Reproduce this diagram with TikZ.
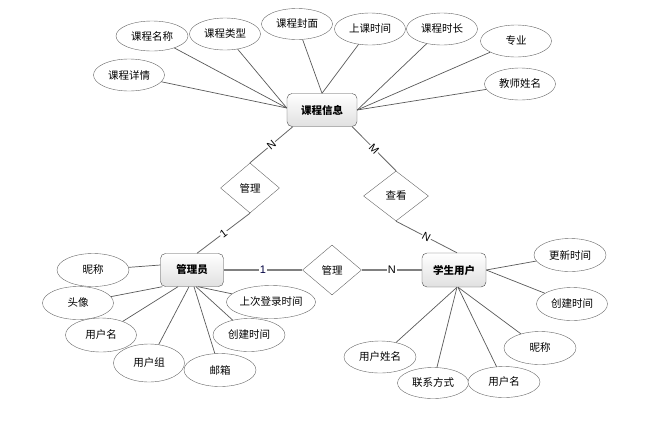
\documentclass[tikz,border=0pt]{standalone}
\usepackage{fontspec}
\newfontfamily\cjk{Noto Sans CJK SC}
\newfontfamily\lat{Liberation Sans}
\usetikzlibrary{shapes.geometric,calc}
\begin{document}
\begin{tikzpicture}[x=1pt,y=-1pt,
  attr/.style={ellipse, draw=black!60, fill=white, minimum width=71pt, minimum height=32pt, inner sep=0pt, font=\cjk\fontsize{10.5}{12}\selectfont},
  ent/.style={rectangle, rounded corners=5pt, draw=black!70, top color=white, bottom color=black!12, minimum width=70pt, minimum height=33pt, inner sep=0pt, font=\cjk\bfseries\fontsize{10.5}{12}\selectfont},
  rel/.style={diamond, draw=black!60, fill=white, minimum width=59pt, minimum height=50pt, inner sep=0pt, font=\cjk\fontsize{10.5}{12}\selectfont},
  aline/.style={draw=black!65, line width=0.7pt},
  rline/.style={draw=black!60, line width=0.8pt},
  hline/.style={draw=black!50, line width=1.4pt},
  card/.style={font=\lat\fontsize{11}{12}\selectfont, fill=white, inner sep=0.8pt}
]
\useasboundingbox (0,0) rectangle (650,421);

% entities
\node[ent] (kc) at (322,110) {课程信息};
\node[ent, minimum width=63pt] (adm) at (192,270) {管理员};
\node[ent, minimum width=64pt, minimum height=34pt] (stu) at (454,270) {学生用户};

% relations
\node[rel] (m1) at (250,188) {管理};
\node[rel, minimum width=65pt] (ck) at (396,196) {查看};
\node[rel] (m2) at (332,270) {管理};

% course attributes
\node[attr, minimum width=72pt, minimum height=30pt] (a1) at (152,36) {课程名称};
\node[attr] (a2) at (225,34) {课程类型};
\node[attr, minimum height=31pt] (a3) at (297,24) {课程封面};
\node[attr] (a4) at (129,75) {课程详情};
\node[attr] (a5) at (370,29) {上课时间};
\node[attr] (a6) at (442,29) {课程时长};
\node[attr] (a7) at (516,41) {专业};
\node[attr] (a8) at (520,84) {教师姓名};

% admin attributes
\node[attr, minimum width=72pt, minimum height=33pt] (b1) at (93,270) {昵称};
\node[attr, minimum height=33pt] (b2) at (78,303) {头像};
\node[attr, minimum height=34pt] (b3) at (101,335) {用户名};
\node[attr, minimum height=38pt] (b4) at (149,363) {用户组};
\node[attr, minimum width=72pt, minimum height=33pt] (b5) at (220,370) {邮箱};
\node[attr, minimum width=72pt, minimum height=33pt] (b6) at (271,302) {上次登录时间};
\node[attr, minimum width=72pt, minimum height=33pt] (b7) at (249,335) {创建时间};

% student attributes
\node[attr, minimum width=72pt, minimum height=33pt] (c1) at (570,255) {更新时间};
\node[attr, minimum height=33pt] (c2) at (572,304) {创建时间};
\node[attr, minimum width=72pt, minimum height=33pt] (c3) at (540,348) {昵称};
\node[attr, minimum width=72pt, minimum height=32pt] (c4) at (380,357) {用户姓名};
\node[attr, minimum height=31pt] (c5) at (433,383) {联系方式};
\node[attr, minimum width=72pt, minimum height=31pt] (c6) at (504,382) {用户名};

% course attribute lines
\draw[aline] (a1) -- ([yshift=2pt]kc.west);
\draw[aline] (a2) -- ([yshift=2pt]kc.west);
\draw[aline] (a4) -- ([yshift=2pt]kc.west);
\draw[aline] (a3) -- (kc.north);
\draw[aline] (a5) -- (kc.north);
\draw[aline] (a6) -- (kc.east);
\draw[aline] (a7) -- (kc.east);
\draw[aline] (a8) -- (kc.east);

% admin attribute lines
\draw[aline] (b1) -- ([yshift=5pt]adm.west);
\draw[aline] (b2) -- ([xshift=2pt]adm.south west);
\draw[aline] (b3) -- ([xshift=-14pt]adm.south);
\draw[aline] (b4) -- ([xshift=-3pt]adm.south);
\draw[aline] (b5) -- ([xshift=2pt]adm.south);
\draw[aline] (b7) -- ([xshift=4pt]adm.south);
\draw[aline] (b6) -- ([xshift=6pt]adm.south);

% student attribute lines
\draw[aline] (c1) -- (stu.east);
\draw[aline] (c2) -- (stu.east);
\draw[aline] (c3) -- ([xshift=4pt]stu.south);
\draw[aline] (c6) -- ([xshift=4pt]stu.south);
\draw[aline] (c5) -- ([xshift=3pt]stu.south);
\draw[aline] (c4) -- ([xshift=3pt]stu.south);

% relation lines
\draw[rline] ([xshift=6pt]kc.south west) -- node[card, sloped] {N} (m1.north);
\draw[rline] (m1.south) -- node[card, sloped] {1} ([xshift=5pt]adm.north);
\draw[rline] ([xshift=-5pt]kc.south east) -- node[card, sloped] {M} (ck.north);
\draw[rline] (ck.south) -- node[card, sloped] {N} ([xshift=3pt]stu.north);
\draw[hline] (adm.east) -- node[card, text=black!75!blue] {1} (m2.west);
\draw[hline] (m2.east) -- node[card] {N} (stu.west);
\end{tikzpicture}
\end{document}
